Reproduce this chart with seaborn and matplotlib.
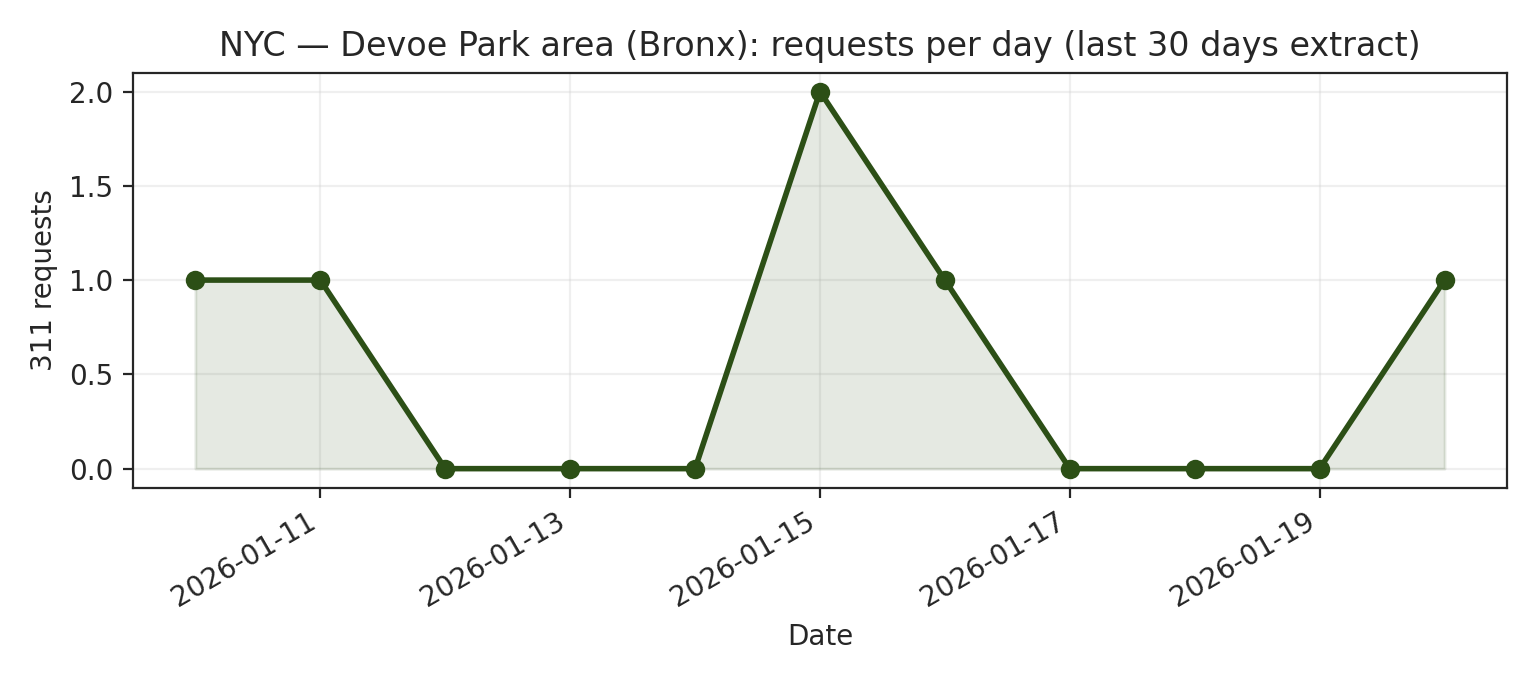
import matplotlib
matplotlib.use("Agg")
import matplotlib.pyplot as plt
import matplotlib.dates as mdates
import seaborn as sns
import pandas as pd

dates = pd.date_range("2026-01-10", "2026-01-20", freq="D")
counts = [1, 1, 0, 0, 0, 2, 1, 0, 0, 0, 1]
df = pd.DataFrame({"date": dates, "count": counts})
color = "#2c4f16"

sns.set_style("ticks")
plt.rcParams['font.family'] = ['DejaVu Sans']
fig, ax = plt.subplots(figsize=(7.685, 3.405), dpi=200)
sns.lineplot(data=df, x="date", y="count", ax=ax, color=color, linewidth=2,
             marker="o", markersize=7, markeredgewidth=0)
ax.fill_between(df["date"], df["count"], 0, color=color, alpha=0.12)
ax.grid(True, alpha=0.3)
ax.xaxis.set_major_locator(mdates.DayLocator(bymonthday=[11, 13, 15, 17, 19]))
ax.xaxis.set_major_formatter(mdates.DateFormatter("%Y-%m-%d"))
ax.set_title("NYC — Devoe Park area (Bronx): requests per day (last 30 days extract)")
ax.set_xlabel("Date")
ax.set_ylabel("311 requests")
fig.autofmt_xdate()
fig.tight_layout()
fig.savefig("out.png", dpi=200)
